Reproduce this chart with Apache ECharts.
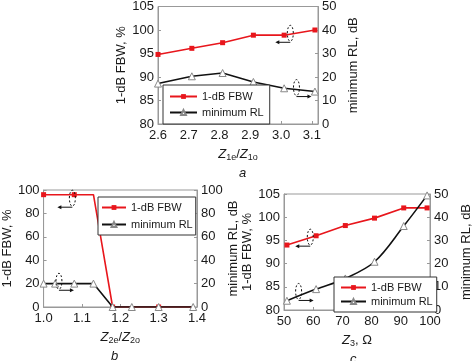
<!DOCTYPE html>
<html>
<head>
<meta charset="utf-8">
<script src="https://cdn.jsdelivr.net/npm/echarts@6/dist/echarts.min.js"></script>
<style>html,body{margin:0;padding:0;background:#fff}#c{width:474px;height:361px}</style>
</head>
<body>
<div id="c"></div>
<script>
// Panel a
const aX = [2.6, 2.71, 2.81, 2.91, 3.01, 3.11];
const aFBW = [94.8, 96.1, 97.3, 98.9, 98.9, 100.0];
const aRL = [17.2, 20.3, 21.7, 17.9, 15.2, 13.8];
// Panel b
const bXF = [1.0, 1.08, 1.13, 1.18, 1.23, 1.3, 1.39];
const bFBW = [96, 96, 96, 0, 0, 0, 0];
const bXR = [1.0, 1.03, 1.08, 1.13, 1.18, 1.23, 1.3, 1.39];
const bRL = [20, 20, 20, 20, 0, 0, 0, 0];
// Panel c
const cX = [51, 61, 71, 81, 91, 99];
const cFBW = [94.0, 96.0, 98.2, 99.8, 102.0, 102.0];
const cRL = [4.0, 9.0, 13.6, 20.8, 36.2, 49.4];

const FONT = '"Liberation Sans", Arial, sans-serif';
const RED = '#e8161c';
const GRAY = '#999';

const chart = echarts.init(document.getElementById('c'));

function zip(xs, ys) { return xs.map((x, i) => [x, ys[i]]); }

const grids = [
  { left: 158, top: 5, width: 160, height: 119 },
  { left: 38, top: 190, width: 159, height: 117 },
  { left: 284, top: 194, width: 150, height: 116 }
];

const lbl = { color: '#1a1a1a', fontSize: 13, fontFamily: FONT };
const axLine = { lineStyle: { color: GRAY, width: 1 } };
const axTick = { show: true, inside: true, length: 3, lineStyle: { color: GRAY } };
const nameStyle = { color: '#1a1a1a', fontSize: 13, fontFamily: FONT };
const subRich = {
  i: { fontStyle: 'italic', fontSize: 13, fontFamily: FONT, color: '#1a1a1a' },
  s: { fontSize: 9, fontFamily: FONT, color: '#1a1a1a', padding: [7, 0, 0, 0] },
  n: { fontSize: 13, fontFamily: FONT, color: '#1a1a1a' }
};

function xAx(gi, min, max, interval, name, dec) {
  return {
    type: 'value', gridIndex: gi, min: min, max: max, interval: interval,
    axisLine: axLine, axisTick: axTick, splitLine: { show: false },
    axisLabel: Object.assign({ margin: 5, showMaxLabel: max === 3.12 ? false : true,
      formatter: v => v.toFixed(dec) }, lbl),
    name: name, nameLocation: 'middle', nameGap: 22,
    nameTextStyle: { rich: subRich }
  };
}
function yAx(gi, min, max, interval, name, pos, gap) {
  return {
    type: 'value', gridIndex: gi, min: min, max: max, interval: interval, position: pos,
    axisLine: Object.assign({ show: true }, axLine), axisTick: axTick, splitLine: { show: false },
    axisLabel: Object.assign({ margin: 4 }, lbl),
    name: name, nameLocation: 'middle', nameGap: gap, nameRotate: 90,
    nameTextStyle: nameStyle
  };
}

const fbwStyle = (xi, yi, data) => ({
  name: '1-dB FBW', type: 'line', xAxisIndex: xi, yAxisIndex: yi, data: data,
  symbol: 'rect', symbolSize: 5, itemStyle: { color: RED }, lineStyle: { color: RED, width: 1.6 },
  z: 2, animation: false
});
const rlStyle = (xi, yi, data, smooth) => ({
  name: 'minimum RL', type: 'line', xAxisIndex: xi, yAxisIndex: yi, data: data,
  symbol: 'triangle', symbolSize: 7, smooth: smooth,
  itemStyle: { color: '#fff', borderColor: '#888', borderWidth: 1 },
  lineStyle: { color: '#111', width: 1.6 }, z: 3, animation: false
});

const bF = zip(bXF, bFBW).map((p, i) => (i === 2 || i === 4 || i === 6) ? { value: p, symbol: 'none' } : p);

const legendBase = {
  orient: 'vertical', data: ['1-dB FBW', 'minimum RL'],
  backgroundColor: '#fff', borderColor: '#333', borderWidth: 1,
  itemWidth: 27, itemHeight: 6,
  textStyle: { fontSize: 11, lineHeight: 13, fontFamily: FONT, color: '#1a1a1a' },
  selectedMode: false
};

const option = {
  animation: false,
  grid: grids.map(g => Object.assign({ show: true, borderColor: GRAY, borderWidth: 1, backgroundColor: 'transparent' }, g)),
  title: [
    { text: 'a', left: 234, top: 162, textStyle: { fontSize: 13, fontStyle: 'italic', fontWeight: 'normal', fontFamily: FONT, color: '#1a1a1a' } },
    { text: 'b', left: 106, top: 345, textStyle: { fontSize: 13, fontStyle: 'italic', fontWeight: 'normal', fontFamily: FONT, color: '#1a1a1a' } },
    { text: 'c', left: 345, top: 348, textStyle: { fontSize: 13, fontStyle: 'italic', fontWeight: 'normal', fontFamily: FONT, color: '#1a1a1a' } }
  ],
  legend: [
    Object.assign({}, legendBase, { left: 163, top: 85, padding: [5, 6, 5, 6], itemGap: 3 }),
    Object.assign({}, legendBase, { left: 98, top: 197, padding: [4, 3, 4, 3], itemGap: 4, itemWidth: 24 }),
    Object.assign({}, legendBase, { left: 334, top: 277, padding: [4, 4, 4, 6], itemGap: 1, itemWidth: 25 })
  ],
  xAxis: [
    xAx(0, 2.6, 3.12, 0.1, '{i|Z}{s|1e}{n|/}{i|Z}{s|1o}', 1),
    xAx(1, 1.0, 1.4, 0.1, '{i|Z}{s|2e}{n|/}{i|Z}{s|2o}', 1),
    xAx(2, 50, 100, 10, '{i|Z}{s|3}{n|, Ω}', 0)
  ],
  yAxis: [
    yAx(0, 80, 105, 5, '1-dB FBW, %', 'left', 22),
    yAx(0, 0, 50, 10, 'minimum RL, dB', 'right', 29),
    yAx(1, 0, 100, 20, '1-dB FBW, %', 'left', 29),
    yAx(1, 0, 100, 20, 'minimum RL, dB', 'right', 21),
    yAx(2, 80, 105, 5, '1-dB FBW, %', 'left', 23),
    yAx(2, 0, 50, 10, 'minimum RL, dB', 'right', 30)
  ],
  series: [
    fbwStyle(0, 0, zip(aX, aFBW)),
    rlStyle(0, 1, zip(aX, aRL), false),
    fbwStyle(1, 2, bF),
    rlStyle(1, 3, zip(bXR, bRL), false),
    fbwStyle(2, 4, zip(cX, cFBW)),
    rlStyle(2, 5, zip(cX, cRL), 0.35)
  ]
};
chart.setOption(option);

// Annotation markers (dashed ellipse + arrow), anchored in data coordinates
const notes = [
  { x: 0, y: 0, at: [3.03, 99.3], dir: -1 },
  { x: 0, y: 1, at: [3.05, 15.5], dir: 1 },
  { x: 1, y: 2, at: [1.075, 93], dir: -1 },
  { x: 1, y: 3, at: [1.04, 22], dir: 1 },
  { x: 2, y: 4, at: [59, 95.7], dir: -1 },
  { x: 2, y: 5, at: [55, 8], dir: 1 }
];
const g = [];
notes.forEach(n => {
  const p = chart.convertToPixel({ xAxisIndex: n.x, yAxisIndex: n.y }, n.at);
  g.push({ type: 'ellipse', shape: { cx: p[0], cy: p[1], rx: 3, ry: 8 },
    style: { fill: 'none', stroke: '#111', lineWidth: 1, lineDash: [2, 2] }, z: 10 });
  const ay = p[1] + 9;
  const x0 = p[0], x1 = p[0] + n.dir * 13;
  g.push({ type: 'line', shape: { x1: x0, y1: ay, x2: x1, y2: ay }, style: { stroke: '#111', lineWidth: 1 }, z: 10 });
  g.push({ type: 'polygon', shape: { points: [[x1 + n.dir * 2, ay], [x1 - n.dir * 2, ay - 2], [x1 - n.dir * 2, ay + 2]] },
    style: { fill: '#111' }, z: 10 });
});
chart.setOption({ graphic: g });
</script>
</body>
</html>
